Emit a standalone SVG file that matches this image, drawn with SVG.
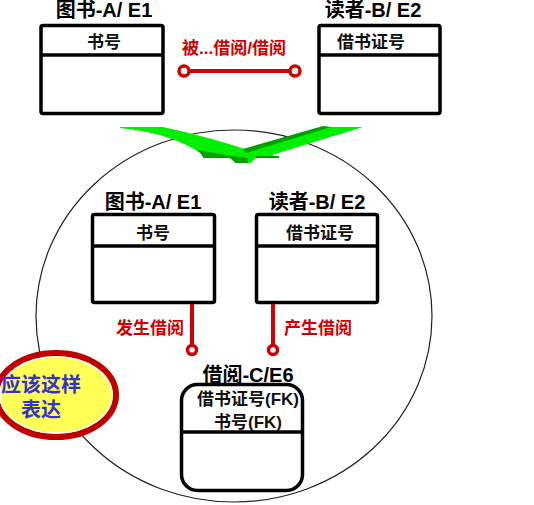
<svg xmlns="http://www.w3.org/2000/svg" width="534" height="505" viewBox="0 0 534 505">
<style>
.box{fill:#fff;stroke:#000;stroke-width:3.5}
.div{stroke:#000;stroke-width:3.5}
.title{font-family:"Liberation Sans","Noto Sans CJK SC",sans-serif;font-size:20px;font-weight:bold;fill:#000;text-anchor:middle}
.attr{font-family:"Liberation Sans","Noto Sans CJK SC",sans-serif;font-size:17px;font-weight:bold;fill:#111;text-anchor:middle}
.rel{font-family:"Liberation Sans","Noto Sans CJK SC",sans-serif;font-size:17px;font-weight:bold;fill:#d00000;text-anchor:middle}
.rl{stroke:#d00000;stroke-width:4;fill:none}
.rc{stroke:#d00000;stroke-width:3.5;fill:#fff}
.note{font-family:"Liberation Sans","Noto Sans CJK SC",sans-serif;font-size:20px;font-weight:bold;fill:#3333cc;text-anchor:middle}
</style>
<rect width="534" height="505" fill="#fff"/>
<g id="scope">
<ellipse cx="234" cy="316" rx="198" ry="186" fill="none" stroke="#222" stroke-width="1.2"/>
</g>
<g id="transform-arrow">
<path d="M120,127 L163,127 Q205,136 245,149 L323,127 L363,127 L272,155 L279,157 L256,158 L250,163 L236,163 L230,158 L203,157 L205,156 Q185,142 160,135 Q140,130 120,128 Z" fill="#00ee00"/>
<path d="M198,150 Q222,155 248,158 L248,163 L236,163 L230,158 L203,157 Z" fill="#00a000"/>
<path d="M243,149 L323,126 L331,127 L246,153 Z" fill="#00a000"/>
<line x1="203" y1="157" x2="230" y2="157" stroke="#00a000" stroke-width="2"/>
<line x1="256" y1="157" x2="279" y2="157" stroke="#00a000" stroke-width="2"/>
</g>
<g id="top-book">
<text class="title" x="104" y="17">图书-A/ E1</text>
<rect class="box" x="41" y="25.5" width="122" height="88" rx="2"/>
<line class="div" x1="41" y1="55" x2="163" y2="55"/>
<text class="attr" x="104" y="48">书号</text>
</g>
<g id="top-reader">
<text class="title" x="373" y="17">读者-B/ E2</text>
<rect class="box" x="319" y="25.5" width="121" height="88" rx="2"/>
<line class="div" x1="319" y1="55" x2="440" y2="55"/>
<text class="attr" x="371" y="48">借书证号</text>
</g>
<g id="inner-book">
<text class="title" x="153" y="209">图书-A/ E1</text>
<rect class="box" x="92.5" y="214.5" width="122" height="88" rx="2"/>
<line class="div" x1="92.5" y1="246" x2="214.5" y2="246"/>
<text class="attr" x="153" y="239">书号</text>
</g>
<g id="inner-reader">
<text class="title" x="317" y="209">读者-B/ E2</text>
<rect class="box" x="256.5" y="214.5" width="121" height="88" rx="2"/>
<line class="div" x1="256.5" y1="246" x2="377.5" y2="246"/>
<text class="attr" x="320" y="239">借书证号</text>
</g>
<g id="borrow">
<text class="title" x="248" y="382">借阅-C/E6</text>
<rect class="box" x="181.5" y="384.5" width="121" height="106" rx="16"/>
<line class="div" x1="181.5" y1="432" x2="302.5" y2="432"/>
<text class="attr" x="248" y="405">借书证号(FK)</text>
<text class="attr" x="248" y="428">书号(FK)</text>
</g>
<g id="connectors">
<text class="rel" x="234" y="54">被...借阅/借阅</text>
<line class="rl" x1="189" y1="71" x2="290" y2="71"/>
<circle class="rc" cx="184" cy="71" r="5"/>
<circle class="rc" cx="295" cy="71" r="5"/>
<line class="rl" x1="192" y1="304" x2="192" y2="345"/>
<circle class="rc" cx="192" cy="350" r="4.5"/>
<text class="rel" x="150" y="334">发生借阅</text>
<line class="rl" x1="273" y1="304" x2="273" y2="345"/>
<circle class="rc" cx="273" cy="350" r="4.5"/>
<text class="rel" x="318" y="334">产生借阅</text>
</g>
<g id="note">
<ellipse cx="56" cy="395" rx="60" ry="42" fill="#ffff55" stroke="#c00000" stroke-width="6"/>
<ellipse cx="56" cy="395" rx="56" ry="38" fill="none" stroke="#fff" stroke-width="1.5"/>
<text class="note" x="41" y="392">应该这样</text>
<text class="note" x="41" y="417">表达</text>
</g>
</svg>
